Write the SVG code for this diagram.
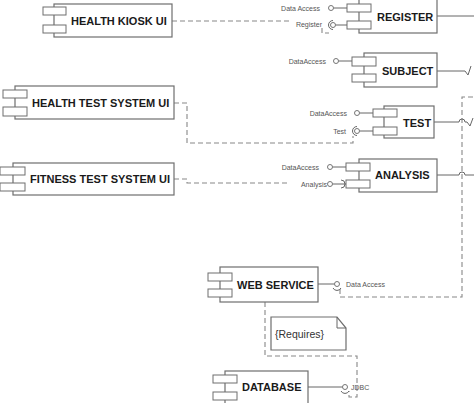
<svg xmlns="http://www.w3.org/2000/svg" width="474" height="403" viewBox="0 0 474 403">
<style>
.box{fill:#fff;stroke:#6e6e6e;stroke-width:1.2}
.port{fill:#fff;stroke:#6e6e6e;stroke-width:1}
.name{font-family:"Liberation Sans",Arial,sans-serif;font-weight:bold;font-size:11px;fill:#1a1a1a}
.lbl{font-family:"Liberation Sans",Arial,sans-serif;font-size:7px;fill:#555}
.note{font-family:"Liberation Sans",Arial,sans-serif;font-size:10.5px;fill:#333}
.ln{fill:none;stroke:#666;stroke-width:1}
.dash{fill:none;stroke:#888;stroke-width:1.1;stroke-dasharray:5,3}
.lol{fill:#fff;stroke:#666;stroke-width:0.9}
</style>
<rect width="474" height="403" fill="#fff"/>

<g id="connectors">
  <path class="dash" d="M172,21 H290"/>
  <path class="dash" d="M322,28 V33 H329"/>
  <path class="dash" d="M174,103 H187 V143 H353 V136"/>
  <path class="dash" d="M174,179 H187 V183 H290"/>
  <path class="dash" d="M340,289 V297 H462 V97 H474"/>
  <path class="dash" d="M265,302 V356 H357 V397 H349 V391"/>
  <path class="ln" d="M437,16 H474"/>
  <path class="ln" d="M437,71 H465 L468,75 L471,66"/>
  <path class="ln" d="M434,122 H459 A3,3 0 0 1 465,122 H467 L470,126 L473,118"/>
  <path class="ln" d="M437,175 H459 A3,3 0 0 1 465,175 H474"/>
</g>

<g id="health-kiosk-ui">
  <rect class="box" x="54" y="4" width="118" height="33"/>
  <rect class="port" x="43" y="7" width="23" height="8"/>
  <rect class="port" x="43" y="25" width="23" height="8"/>
  <text class="name" x="71" y="25">HEALTH KIOSK UI</text>
</g>

<g id="register">
  <rect class="box" x="359" y="-2" width="78" height="35"/>
  <rect class="port" x="347" y="4" width="24" height="8"/>
  <rect class="port" x="347" y="21" width="24" height="8"/>
  <text class="name" x="377" y="21">REGISTER</text>
  <path class="ln" d="M333.5,8 H347 M335.5,25 H347"/>
  <circle class="lol" cx="331" cy="8" r="2.5"/>
  <circle class="lol" cx="333" cy="25" r="2.5"/>
  <path class="ln" d="M333,20.5 A4.5,4.5 0 0 0 333,29.5"/>
  <text class="lbl" x="320" y="10.5" text-anchor="end">Data Access</text>
  <text class="lbl" x="322" y="27" text-anchor="end">Register</text>
</g>

<g id="subject">
  <rect class="box" x="364" y="53" width="73" height="34"/>
  <rect class="port" x="352" y="57" width="24" height="9"/>
  <rect class="port" x="352" y="74" width="24" height="8"/>
  <text class="name" x="382" y="75">SUBJECT</text>
  <path class="ln" d="M338.5,61 H352"/>
  <circle class="lol" cx="336" cy="61" r="2.5"/>
  <text class="lbl" x="326" y="63.5" text-anchor="end">DataAccess</text>
</g>

<g id="health-test-system-ui">
  <rect class="box" x="15" y="86" width="159" height="33"/>
  <rect class="port" x="3" y="90" width="24" height="8"/>
  <rect class="port" x="3" y="107" width="24" height="9"/>
  <text class="name" x="32" y="107">HEALTH TEST SYSTEM UI</text>
</g>

<g id="test">
  <rect class="box" x="384" y="106" width="50" height="32"/>
  <rect class="port" x="373" y="109" width="24" height="8"/>
  <rect class="port" x="373" y="127" width="24" height="8"/>
  <text class="name" x="403" y="127">TEST</text>
  <path class="ln" d="M359.5,113 H373 M359.5,131 H373"/>
  <circle class="lol" cx="357" cy="113" r="2.5"/>
  <circle class="lol" cx="357" cy="131" r="2.5"/>
  <path class="ln" d="M357,126.5 A4.5,4.5 0 0 0 357,135.5"/>
  <text class="lbl" x="347" y="116" text-anchor="end">DataAccess</text>
  <text class="lbl" x="346" y="133.5" text-anchor="end">Test</text>
</g>

<g id="fitness-test-system-ui">
  <rect class="box" x="13" y="163" width="161" height="32"/>
  <rect class="port" x="0" y="167" width="25" height="8"/>
  <rect class="port" x="0" y="183" width="25" height="8"/>
  <text class="name" x="30" y="183">FITNESS TEST SYSTEM UI</text>
</g>

<g id="analysis">
  <rect class="box" x="359" y="159" width="78" height="33"/>
  <rect class="port" x="346" y="163" width="24" height="8"/>
  <rect class="port" x="346" y="180" width="24" height="8"/>
  <text class="name" x="375" y="179">ANALYSIS</text>
  <path class="ln" d="M332.5,167 H346 M332.5,184 H346"/>
  <circle class="lol" cx="330" cy="167" r="2.5"/>
  <circle class="lol" cx="330" cy="184" r="2.5"/>
  <path class="ln" d="M341,180 A4,4 0 0 1 341,188"/>
  <text class="lbl" x="319" y="169.5" text-anchor="end">DataAccess</text>
  <text class="lbl" x="327" y="186.5" text-anchor="end">Analysis</text>
</g>

<g id="web-service">
  <rect class="box" x="220" y="267" width="98" height="35"/>
  <rect class="port" x="208" y="273" width="24" height="8"/>
  <rect class="port" x="208" y="289" width="24" height="8"/>
  <text class="name" x="237" y="289">WEB SERVICE</text>
  <path class="ln" d="M318,284 H334.5"/>
  <circle class="lol" cx="337" cy="284" r="2.5"/>
  <path class="ln" d="M333,288 A4.5,4.5 0 0 0 341,288"/>
  <text class="lbl" x="346" y="287">Data Access</text>
</g>

<g id="requires-note">
  <path class="box" d="M271,317 H337 L346,328 V350 H271 Z"/>
  <path class="ln" d="M337,317 V328 H346"/>
  <text class="note" x="275" y="338">{Requires}</text>
</g>

<g id="database">
  <rect class="box" x="225" y="371" width="83" height="40"/>
  <rect class="port" x="213" y="375" width="24" height="8"/>
  <rect class="port" x="213" y="392" width="24" height="8"/>
  <text class="name" x="242" y="391">DATABASE</text>
  <path class="ln" d="M308,387 H342.5"/>
  <circle class="lol" cx="345" cy="387" r="2.5"/>
  <path class="ln" d="M341,391 A4.5,4.5 0 0 0 349,391"/>
  <text class="lbl" x="351" y="389.5">JDBC</text>
</g>
</svg>
